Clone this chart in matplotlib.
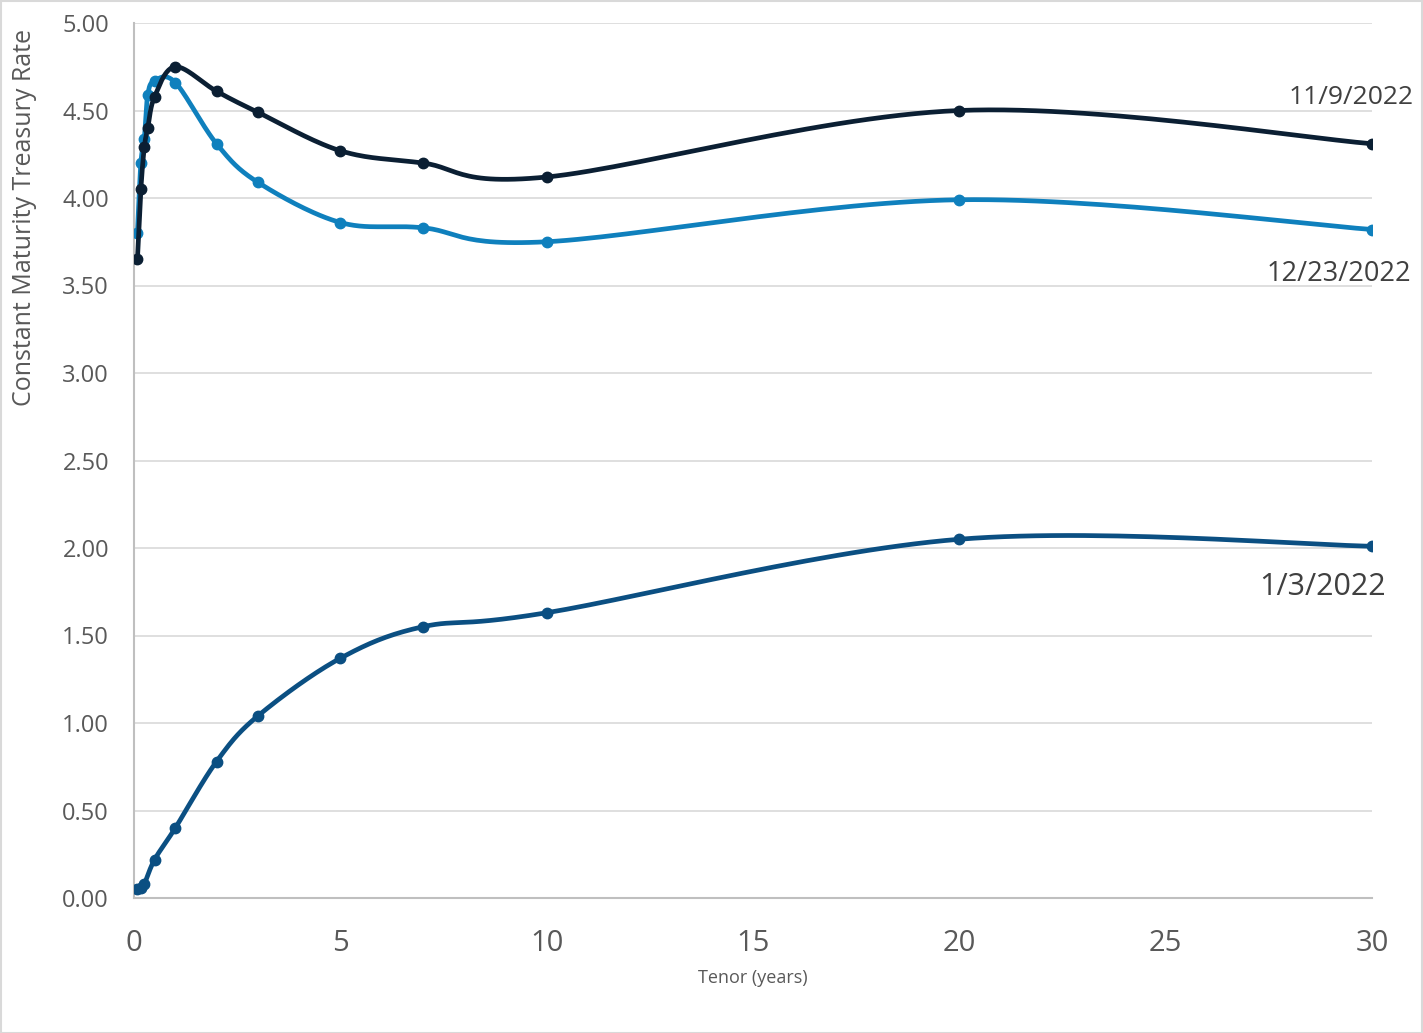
import numpy as np
import matplotlib
matplotlib.use("Agg")
import matplotlib.pyplot as plt
from matplotlib.patches import Rectangle

plt.rcParams['font.family'] = ['Open Sans', 'DejaVu Sans']

# Data
tenor_full = [1/12, 2/12, 3/12, 4/12, 6/12, 1, 2, 3, 5, 7, 10, 20, 30]
tenor_jan = [1/12, 2/12, 3/12, 6/12, 1, 2, 3, 5, 7, 10, 20, 30]
rates_nov = [3.65, 4.05, 4.29, 4.40, 4.58, 4.75, 4.61, 4.49, 4.27, 4.20, 4.12, 4.50, 4.31]
rates_dec = [3.80, 4.20, 4.34, 4.59, 4.67, 4.66, 4.31, 4.09, 3.86, 3.83, 3.75, 3.99, 3.82]
rates_jan = [0.05, 0.06, 0.08, 0.22, 0.40, 0.78, 1.04, 1.37, 1.55, 1.63, 2.05, 2.01]
labels = ["11/9/2022", "12/23/2022", "1/3/2022"]
colors = ["#0b1f33", "#0f80bd", "#0b4f82"]

W, H = 1423, 1033
fig = plt.figure(figsize=(W/100, H/100), dpi=100)
ax = fig.add_axes([134/W, 1 - 898/H, (1372-134)/W, (898-23)/H])

sx = (1372-134)/30.0
sy = (898-23)/5.0

def smooth(x, y, n=30):
    px = np.array(x) * sx
    py = np.array(y) * sy
    P = np.column_stack([px, py])
    out = [P[0]]
    N = len(P)
    for i in range(N-1):
        p0 = P[i-1] if i > 0 else P[i]
        p1 = P[i]
        p2 = P[i+1]
        p3 = P[i+2] if i+2 < N else P[i+1]
        c1 = p1 + (p2 - p0) / 6.0
        c2 = p2 - (p3 - p1) / 6.0
        t = np.linspace(0, 1, n)[1:, None]
        seg = ((1-t)**3)*p1 + 3*((1-t)**2)*t*c1 + 3*(1-t)*t**2*c2 + t**3*p2
        out.extend(seg)
    out = np.array(out)
    return out[:, 0]/sx, out[:, 1]/sy

series = [(tenor_full, rates_nov), (tenor_full, rates_dec), (tenor_jan, rates_jan)]
order = [2, 1, 0]
for i in order:
    x, y = series[i]
    xs, ys = smooth(x, y)
    ax.plot(xs, ys, color=colors[i], lw=3.4, solid_capstyle='round', zorder=3+(2-i))
    ax.plot(x, y, 'o', color=colors[i], ms=7.5, zorder=3+(2-i))

ax.set_xlim(0, 30)
ax.set_ylim(0, 5)
ax.set_xticks([0, 5, 10, 15, 20, 25, 30])
ax.set_yticks(np.arange(0, 5.01, 0.5))
ax.set_yticklabels([f"{v:.2f}" for v in np.arange(0, 5.01, 0.5)])
ax.tick_params(axis='x', labelsize=21, colors='#595959', length=0, pad=22)
ax.tick_params(axis='y', labelsize=17, colors='#595959', length=0, pad=18)
ax.grid(axis='y', color='#d9d9d9', lw=1.2)
ax.set_axisbelow(True)
for s in ['top', 'right']:
    ax.spines[s].set_visible(False)
for s in ['left', 'bottom']:
    ax.spines[s].set_color('#bfbfbf')
    ax.spines[s].set_linewidth(1.5)

ax.set_xlabel("Tenor (years)", fontsize=13, color='#595959', labelpad=8)
fig.text(25/W, 1 - 218/H, "Constant Maturity Treasury Rate", fontsize=18, color='#595959',
         rotation=90, ha='center', va='center')

fig.text(1414/W, 1 - 97/H, labels[0], fontsize=19, color='#404040', ha='right', va='center')
fig.text(1411/W, 1 - 274/H, labels[1], fontsize=19.5, color='#404040', ha='right', va='center')
fig.text(1323/W, 1 - 587/H, labels[2], fontsize=22, color='#404040', ha='center', va='center')

fig.patches.append(Rectangle((0.5/W, 0.5/H), 1 - 1.5/W, 1 - 1.5/H, transform=fig.transFigure,
                             fill=False, edgecolor='#d9d9d9', lw=1.5))

fig.savefig("out.png", dpi=100)
